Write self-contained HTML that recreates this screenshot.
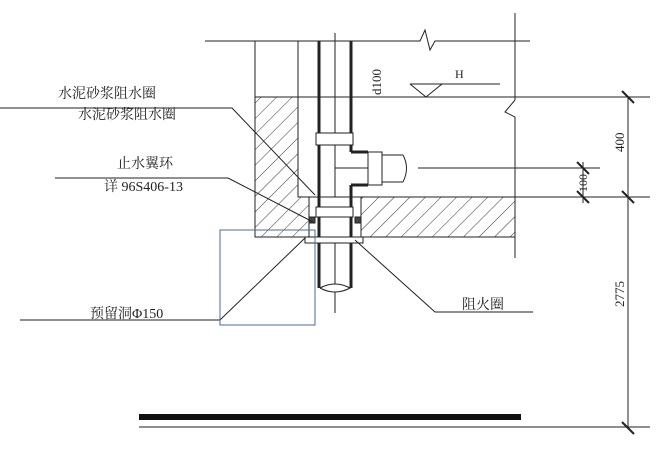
<!DOCTYPE html><html><head><meta charset="utf-8"><style>body{margin:0;background:#fff}svg{display:block}text{font-family:"Liberation Serif","Noto Serif CJK SC",serif;fill:#222}</style></head><body>
<svg width="661" height="453" viewBox="0 0 661 453" xmlns="http://www.w3.org/2000/svg">
<defs><pattern id="h" width="11" height="11" patternUnits="userSpaceOnUse" patternTransform="rotate(45)"><line x1="0" y1="0" x2="0" y2="11" stroke="#333" stroke-width="1"/></pattern></defs>
<g stroke="#222" fill="none" stroke-width="1">
<path d="M255 97H298V197H515V237H255Z" fill="url(#h)"/>
<path d="M205 41H420L425 30L430 50L435 41H530"/>
<line x1="515" y1="13" x2="515" y2="100"/>
<path d="M515 100L505 112L515 117V258"/>
<line x1="255" y1="41" x2="255" y2="237"/>
<line x1="298" y1="41" x2="298" y2="197"/>
<line x1="255" y1="97" x2="650" y2="97"/>
<line x1="298" y1="197" x2="650" y2="197"/>
<line x1="255" y1="237" x2="515" y2="237"/>
<line x1="319" y1="41" x2="319" y2="288" stroke-width="3"/>
<line x1="351" y1="41" x2="351" y2="152" stroke-width="3"/>
<line x1="351" y1="185" x2="351" y2="288" stroke-width="3"/>
<line x1="335" y1="33" x2="335" y2="313"/>
<path d="M320 288Q335 296 350 288Q335 280 320 288" fill="#fff"/>
<rect x="316" y="133" width="37" height="12" fill="#fff"/>
<path d="M351 152H368M351 185H368" stroke-width="3"/>
<rect x="368" y="152" width="14" height="33" fill="#fff"/>
<path d="M382 155H403M382 182H403M403 155Q410 168 403 182"/>
<line x1="335" y1="168" x2="368" y2="168"/>
<line x1="418" y1="168" x2="600" y2="168"/>
<rect x="309" y="197" width="52" height="40" fill="#fff"/>
<line x1="319" y1="197" x2="319" y2="237" stroke-width="3"/><line x1="351" y1="197" x2="351" y2="237" stroke-width="3"/>
<rect x="316" y="207" width="37" height="10" fill="#fff"/>
<rect x="305" y="237" width="58" height="6" fill="#fff"/>
<rect x="309" y="217" width="6" height="6" fill="#444"/><rect x="355" y="217" width="6" height="6" fill="#444"/>
<path d="M410 84H500M410 84L426 97L442 84"/>
<path d="M0 108H232L315 195"/>
<path d="M55 178H228L313 222"/>
<path d="M20 320H220L305 238"/>
<path d="M533 312H435L355 240"/>
<rect x="220" y="230" width="95" height="95" stroke="#4a6aa8"/>
<line x1="628" y1="97" x2="628" y2="428"/>
<path d="M622 91L634 103M622 191L634 203M622 422L634 434" stroke-width="2"/>
<line x1="583" y1="162" x2="583" y2="203"/>
<path d="M577 162L589 174M577 191L589 203" stroke-width="2"/>
<line x1="139" y1="427" x2="650" y2="427"/>
</g>
<rect x="139" y="414" width="382" height="6" fill="#111"/>
<g font-size="14">
<text x="58" y="98">水泥砂浆阻水圈</text>
<text x="78" y="119">水泥砂浆阻水圈</text>
<text x="117" y="168">止水翼环</text>
<text x="104" y="191">详 96S406-13</text>
<text x="90" y="318">预留洞Φ150</text>
<text x="462" y="309">阻火圈</text>
<text x="455" y="78" font-size="12">H</text>
<text transform="translate(381,95) rotate(-90)" font-size="13">d100</text>
<text transform="translate(624,152) rotate(-90)" font-size="13" fill="#555">400</text>
<text transform="translate(624,307) rotate(-90)" font-size="13" fill="#555">2775</text>
<text transform="translate(587,192) rotate(-90)" font-size="12">100</text>
</g>
</svg></body></html>
